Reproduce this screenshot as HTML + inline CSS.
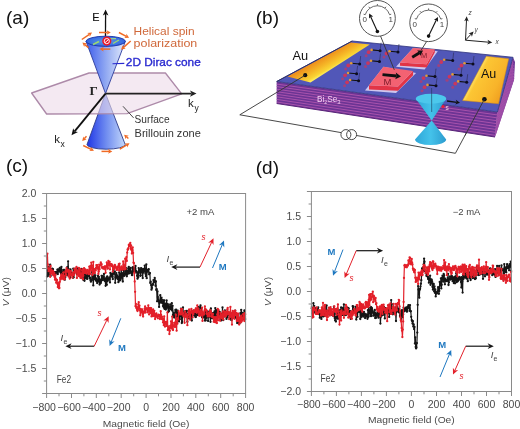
<!DOCTYPE html>
<html><head><meta charset="utf-8"><style>
html,body{margin:0;padding:0;background:#fff;width:520px;height:429px;overflow:hidden}
svg{display:block}
.pl{font-family:"Liberation Sans",sans-serif;font-size:19px;fill:#111}
.tk{font-family:"Liberation Sans",sans-serif;font-size:10.5px;fill:#4a4a4a}
.al{font-family:"Liberation Sans",sans-serif;font-size:9.8px;fill:#4a4a4a}
.ann{font-family:"Liberation Sans",sans-serif;font-size:9px;fill:#444}
.annb{font-family:"Liberation Sans",sans-serif;font-size:9px;font-weight:bold}
.sub{font-family:"Liberation Sans",sans-serif;font-size:7px;fill:#444}
.ie{font-family:"Liberation Sans",sans-serif;font-size:9.5px;fill:#444}
.fe{font-family:"Liberation Sans",sans-serif;font-size:10.4px;fill:#444}
.ta{font-family:"Liberation Sans",sans-serif}
</style></head><body>
<svg width="520" height="429" viewBox="0 0 520 429">
<rect width="520" height="429" fill="#fff"/>
<defs><marker id="mR" markerUnits="userSpaceOnUse" markerWidth="4" markerHeight="4" refX="2" refY="2"><circle cx="2" cy="2" r="1.15" fill="#e3202a"/></marker>
<marker id="mB" markerUnits="userSpaceOnUse" markerWidth="4" markerHeight="4" refX="2" refY="2"><circle cx="2" cy="2" r="1.15" fill="#161616"/></marker></defs>
<defs>
<linearGradient id="gU" x1="0" x2="1" y1="0" y2="0"><stop offset="0" stop-color="#3d5cec"/><stop offset="0.5" stop-color="#90a8f2"/><stop offset="1" stop-color="#e4ecfc"/></linearGradient>
<linearGradient id="gL" x1="0" x2="1" y1="0" y2="0"><stop offset="0" stop-color="#1f36e6"/><stop offset="0.5" stop-color="#6f8cf0"/><stop offset="1" stop-color="#c4d8fa"/></linearGradient>
<radialGradient id="gT" cx="0.5" cy="0.5" r="0.6"><stop offset="0" stop-color="#5a9ae6"/><stop offset="0.7" stop-color="#3a6ee0"/><stop offset="1" stop-color="#2446d4"/></radialGradient>
</defs>
<line x1="105.4" y1="45.0" x2="105.6" y2="14.0" stroke="#111" stroke-width="1.3"/><polygon points="105.6,9.5 108.4,15.5 105.6,14.0 102.8,15.5" fill="#111"/>
<text x="92.2" y="21.4" class="ta" font-size="10.8" fill="#111" stroke="#111" stroke-width="0.2">E</text>
<path d="M105.5,93.5 L87,144.5 A19.1,4.7 0 0 0 125.2,144.5 Z" fill="url(#gL)" stroke="#2c3a88" stroke-width="0.9"/>
<polygon points="31.6,93 89,73 165.4,73 181.7,93.8 127,113.6 46.6,114" fill="#eddae9" fill-opacity="0.6" stroke="#ad8aa9" stroke-width="1.35" stroke-linejoin="round"/>
<path d="M105.5,93.5 L86,41.3 L125.4,41.3 Z" fill="url(#gU)"/>
<polyline points="86,41.3 105.5,93.5 125.4,41.3" fill="none" stroke="#2c3c9c" stroke-width="0.9"/>
<ellipse cx="105.7" cy="41.3" rx="19.7" ry="5.1" fill="url(#gT)" stroke="#1a34a8" stroke-width="0.9"/>
<path d="M93,44.5 L99,41.5" stroke="#9cd870" stroke-width="1.6"/>
<path d="M113,43.5 L119,40" stroke="#9cd870" stroke-width="1.4"/>
<path d="M110,38.8 L116,38.6" stroke="#a0d880" stroke-width="1.1"/>
<circle cx="106.8" cy="41.1" r="4.6" fill="#e8182a"/>
<circle cx="106.8" cy="41.1" r="2.6" fill="none" stroke="#fff" stroke-width="0.9"/>
<path d="M105,42.6 L108.8,39.4" stroke="#fff" stroke-width="0.9"/>
<line x1="81.8" y1="39.5" x2="89.4" y2="34.3" stroke="#f06a24" stroke-width="1.5"/><polygon points="92.0,32.5 89.8,36.8 89.4,34.3 87.2,33.0" fill="#f06a24"/>
<line x1="99.0" y1="32.5" x2="107.6" y2="32.5" stroke="#f06a24" stroke-width="1.5"/><polygon points="110.8,32.5 106.6,34.8 107.6,32.5 106.6,30.2" fill="#f06a24"/>
<line x1="118.9" y1="32.5" x2="126.3" y2="36.3" stroke="#f06a24" stroke-width="1.5"/><polygon points="129.1,37.8 124.3,37.9 126.3,36.3 126.4,33.8" fill="#f06a24"/>
<line x1="130.7" y1="41.0" x2="123.3" y2="47.6" stroke="#f06a24" stroke-width="1.5"/><polygon points="121.0,49.7 122.6,45.2 123.3,47.6 125.7,48.6" fill="#f06a24"/>
<line x1="110.3" y1="49.1" x2="102.7" y2="49.1" stroke="#f06a24" stroke-width="1.5"/><polygon points="99.5,49.1 103.7,46.8 102.7,49.1 103.7,51.4" fill="#f06a24"/>
<line x1="88.5" y1="47.6" x2="84.8" y2="44.6" stroke="#f06a24" stroke-width="1.5"/><polygon points="82.4,42.6 87.1,43.5 84.8,44.6 84.2,47.0" fill="#f06a24"/>
<line x1="86.5" y1="136.3" x2="84.3" y2="138.8" stroke="#f06a24" stroke-width="1.5"/><polygon points="82.2,141.1 83.3,136.4 84.3,138.8 86.7,139.5" fill="#f06a24"/>
<line x1="83.2" y1="145.5" x2="91.2" y2="149.4" stroke="#f06a24" stroke-width="1.5"/><polygon points="94.0,150.8 89.2,151.0 91.2,149.4 91.2,146.9" fill="#f06a24"/>
<line x1="101.5" y1="151.4" x2="109.1" y2="151.4" stroke="#f06a24" stroke-width="1.5"/><polygon points="112.3,151.4 108.1,153.7 109.1,151.4 108.1,149.1" fill="#f06a24"/>
<line x1="119.8" y1="149.2" x2="126.8" y2="144.9" stroke="#f06a24" stroke-width="1.5"/><polygon points="129.5,143.3 127.1,147.4 126.8,144.9 124.7,143.5" fill="#f06a24"/>
<line x1="128.4" y1="138.5" x2="126.5" y2="136.8" stroke="#f06a24" stroke-width="1.5"/><polygon points="124.1,134.7 128.8,135.8 126.5,136.8 125.7,139.2" fill="#f06a24"/>
<line x1="105.5" y1="93.6" x2="191.6" y2="93.6" stroke="#222" stroke-width="1.7"/><polygon points="196.5,93.6 190.0,96.7 191.6,93.6 190.0,90.5" fill="#222"/>
<line x1="105.5" y1="93.6" x2="74.6" y2="131.4" stroke="#111" stroke-width="1.8"/><polygon points="71.5,135.2 73.2,128.2 74.6,131.4 78.0,132.1" fill="#111"/>
<text x="89.6" y="95.4" font-family="Liberation Serif,serif" font-weight="bold" font-size="13" fill="#222">Γ</text>
<text x="188" y="107" class="ta" font-size="11.5" fill="#222">k</text><text x="194.6" y="110.6" class="ta" font-size="8.5" fill="#222">y</text>
<text x="54.2" y="143.2" class="ta" font-size="11.5" fill="#222">k</text><text x="60.6" y="146.6" class="ta" font-size="8.5" fill="#222">x</text>
<line x1="123" y1="106.3" x2="133.6" y2="117.9" stroke="#333" stroke-width="0.9"/>
<text x="134.6" y="123" class="ta" font-size="10.2" fill="#333" textLength="35" lengthAdjust="spacingAndGlyphs">Surface</text>
<text x="134.6" y="136.5" class="ta" font-size="10.2" fill="#333" textLength="66.2" lengthAdjust="spacingAndGlyphs">Brillouin zone</text>
<text x="133.5" y="34.6" class="ta" font-size="11.6" fill="#d0683a" textLength="61.1" lengthAdjust="spacingAndGlyphs">Helical spin</text>
<text x="133.5" y="46.5" class="ta" font-size="11.6" fill="#d0683a" textLength="63.8" lengthAdjust="spacingAndGlyphs">polarization</text>
<line x1="112.5" y1="63.7" x2="124.3" y2="63.4" stroke="#2a2ad0" stroke-width="1.1"/>
<text x="125.8" y="66.3" class="ta" font-size="11.6" fill="#2a2ad0" stroke="#2a2ad0" stroke-width="0.35" textLength="75" lengthAdjust="spacingAndGlyphs">2D Dirac cone</text>
<defs>
<linearGradient id="gAu" gradientUnits="userSpaceOnUse" x1="319.2" y1="59.5" x2="326.8" y2="72.6"><stop offset="0" stop-color="#ee901c"/><stop offset="0.45" stop-color="#f5b426"/><stop offset="0.82" stop-color="#fad434"/><stop offset="1" stop-color="#fff064"/></linearGradient>
<linearGradient id="gAu2" gradientUnits="userSpaceOnUse" x1="474" y1="78" x2="503" y2="93.6"><stop offset="0" stop-color="#ffe46a"/><stop offset="0.12" stop-color="#fcc634"/><stop offset="0.7" stop-color="#f8b42a"/><stop offset="1" stop-color="#f0a020"/></linearGradient>
<linearGradient id="gCy" x1="0" x2="1" y1="0" y2="0"><stop offset="0" stop-color="#2ea6d8"/><stop offset="0.5" stop-color="#44c2ea"/><stop offset="1" stop-color="#2c9ccf"/></linearGradient>
<filter id="bl" x="-50%" y="-50%" width="200%" height="200%"><feGaussianBlur stdDeviation="0.7"/></filter>
</defs>
<polyline points="305.2,75.2 239.8,114.8 341.0,132.6" fill="none" stroke="#333" stroke-width="0.9"/>
<polyline points="356.6,135.5 455.4,153.3 484.4,99.2" fill="none" stroke="#333" stroke-width="0.9"/>
<circle cx="345.9" cy="134.6" r="5" fill="none" stroke="#333" stroke-width="0.9"/><circle cx="351.6" cy="134.6" r="5" fill="none" stroke="#333" stroke-width="0.9"/>
<polygon points="276.7,81.5 497.4,112.0 495.0,137.0 276.7,103.5" fill="#6c3494"/>
<polygon points="497.4,112.0 513.0,57.3 515.0,62.0 514.0,80.0 495.0,137.0" fill="#6c3494"/>
<line x1="276.7" y1="84.1" x2="497.1" y2="114.9" stroke="#a852ac" stroke-width="1"/>
<line x1="497.1" y1="114.9" x2="513.1" y2="59.9" stroke="#a852ac" stroke-width="0.9"/>
<line x1="276.7" y1="86.6" x2="496.8" y2="117.8" stroke="#a852ac" stroke-width="1"/>
<line x1="496.8" y1="117.8" x2="513.2" y2="62.6" stroke="#a852ac" stroke-width="0.9"/>
<line x1="276.7" y1="89.2" x2="496.6" y2="120.7" stroke="#a852ac" stroke-width="1"/>
<line x1="496.6" y1="120.7" x2="513.3" y2="65.2" stroke="#a852ac" stroke-width="0.9"/>
<line x1="276.7" y1="91.7" x2="496.3" y2="123.6" stroke="#a852ac" stroke-width="1"/>
<line x1="496.3" y1="123.6" x2="513.5" y2="67.9" stroke="#a852ac" stroke-width="0.9"/>
<line x1="276.7" y1="94.3" x2="496.0" y2="126.5" stroke="#a852ac" stroke-width="1"/>
<line x1="496.0" y1="126.5" x2="513.6" y2="70.5" stroke="#a852ac" stroke-width="0.9"/>
<line x1="276.7" y1="96.8" x2="495.7" y2="129.4" stroke="#a852ac" stroke-width="1"/>
<line x1="495.7" y1="129.4" x2="513.7" y2="73.1" stroke="#a852ac" stroke-width="0.9"/>
<line x1="276.7" y1="99.4" x2="495.4" y2="132.3" stroke="#a852ac" stroke-width="1"/>
<line x1="495.4" y1="132.3" x2="513.8" y2="75.8" stroke="#a852ac" stroke-width="0.9"/>
<line x1="276.7" y1="102.0" x2="495.2" y2="135.3" stroke="#a852ac" stroke-width="1"/>
<line x1="495.2" y1="135.3" x2="513.9" y2="78.4" stroke="#a852ac" stroke-width="0.9"/>
<line x1="276.7" y1="103.5" x2="495" y2="137" stroke="#5a2478" stroke-width="1"/>
<polygon points="276.7,81.5 352.2,41.0 513.0,57.3 497.4,112.0" fill="#5157b8" stroke="#30347e" stroke-width="0.8"/>
<polygon points="287.5,76.6 350.5,42.6 369.8,44.6 310.5,82.6" fill="url(#gAu)"/>
<line x1="276.7" y1="81.5" x2="352.2" y2="41" stroke="#2a2c60" stroke-width="0.9"/>
<polygon points="462.6,100.5 486.3,56.3 508.7,58.8 498.5,103.7" fill="url(#gAu2)" stroke="#d08a18" stroke-width="0.5"/>
<polygon points="413.1,47.9 437.8,51.2 424.6,69.6 396.0,66.8" fill="#cfc6ee"/>
<polygon points="400.0,62.6 426.6,64.2 434.8,49.2 434.8,52.4 426.6,67.4 400.0,65.8" fill="#e23446"/>
<polygon points="413.1,47.9 434.8,49.2 426.6,64.2 400.0,62.6" fill="#f36272"/>
<polygon points="383.5,66.8 416.1,73.0 396.0,93.0 365.0,90.5" fill="#cfc6ee"/>
<polygon points="369.0,85.2 398.0,86.5 413.1,71.0 413.1,75.3 398.0,90.8 369.0,89.5" fill="#e23446"/>
<polygon points="383.5,66.8 413.1,71.0 398.0,86.5 369.0,85.2" fill="#f36272"/>
<line x1="382.5" y1="74.7" x2="396.6" y2="76.0" stroke="#111" stroke-width="2.8"/><polygon points="401.0,76.4 395.2,79.3 396.6,76.0 395.8,72.5" fill="#111"/>
<line x1="412.2" y1="57.2" x2="419.6" y2="52.7" stroke="#111" stroke-width="2.8"/><polygon points="423.0,50.6 420.4,55.9 419.6,52.7 417.1,50.5" fill="#111"/>
<text x="383.6" y="84.8" font-family="Liberation Sans,sans-serif" font-size="9.5" fill="#7a1a28">M</text>
<text x="421" y="57.8" font-family="Liberation Sans,sans-serif" font-size="7.4" fill="#7a1a28">M</text>
<circle cx="368.6" cy="52.2" r="1.9" fill="#e0304e" opacity="0.85" filter="url(#bl)"/>
<circle cx="366.1" cy="55.7" r="1.5" fill="#e0304e" opacity="0.55" filter="url(#bl)"/>
<line x1="380.1" y1="50.7" x2="381.1" y2="42.7" stroke="#2a2a50" stroke-width="0.6"/>
<line x1="371.6" y1="49.9" x2="380.1" y2="50.7" stroke="#111" stroke-width="1.1"/>
<circle cx="371.6" cy="49.9" r="1.3" fill="#e29a38"/>
<circle cx="380.1" cy="50.7" r="1.5" fill="#0c0c20"/>
<circle cx="368.0" cy="63.1" r="1.9" fill="#e0304e" opacity="0.85" filter="url(#bl)"/>
<circle cx="365.5" cy="66.6" r="1.5" fill="#e0304e" opacity="0.55" filter="url(#bl)"/>
<line x1="379.5" y1="61.6" x2="380.5" y2="53.6" stroke="#2a2a50" stroke-width="0.6"/>
<line x1="371.0" y1="60.8" x2="379.5" y2="61.6" stroke="#111" stroke-width="1.1"/>
<circle cx="371.0" cy="60.8" r="1.3" fill="#e29a38"/>
<circle cx="379.5" cy="61.6" r="1.5" fill="#0c0c20"/>
<circle cx="348.2" cy="65.5" r="1.9" fill="#e0304e" opacity="0.85" filter="url(#bl)"/>
<circle cx="345.7" cy="69.0" r="1.5" fill="#e0304e" opacity="0.55" filter="url(#bl)"/>
<line x1="359.7" y1="64.0" x2="360.7" y2="56.0" stroke="#2a2a50" stroke-width="0.6"/>
<line x1="351.2" y1="63.2" x2="359.7" y2="64.0" stroke="#111" stroke-width="1.1"/>
<circle cx="351.2" cy="63.2" r="1.3" fill="#e29a38"/>
<circle cx="359.7" cy="64.0" r="1.5" fill="#0c0c20"/>
<circle cx="345.1" cy="75.3" r="1.9" fill="#e0304e" opacity="0.85" filter="url(#bl)"/>
<circle cx="342.6" cy="78.8" r="1.5" fill="#e0304e" opacity="0.55" filter="url(#bl)"/>
<line x1="356.6" y1="73.8" x2="357.6" y2="65.8" stroke="#2a2a50" stroke-width="0.6"/>
<line x1="348.1" y1="73.0" x2="356.6" y2="73.8" stroke="#111" stroke-width="1.1"/>
<circle cx="348.1" cy="73.0" r="1.3" fill="#e29a38"/>
<circle cx="356.6" cy="73.8" r="1.5" fill="#0c0c20"/>
<circle cx="347.1" cy="82.3" r="1.9" fill="#e0304e" opacity="0.85" filter="url(#bl)"/>
<circle cx="344.6" cy="85.8" r="1.5" fill="#e0304e" opacity="0.55" filter="url(#bl)"/>
<line x1="358.6" y1="80.8" x2="359.6" y2="72.8" stroke="#2a2a50" stroke-width="0.6"/>
<line x1="350.1" y1="80.0" x2="358.6" y2="80.8" stroke="#111" stroke-width="1.1"/>
<circle cx="350.1" cy="80.0" r="1.3" fill="#e29a38"/>
<circle cx="358.6" cy="80.8" r="1.5" fill="#0c0c20"/>
<circle cx="441.2" cy="62.0" r="1.9" fill="#e0304e" opacity="0.85" filter="url(#bl)"/>
<circle cx="438.7" cy="65.5" r="1.5" fill="#e0304e" opacity="0.55" filter="url(#bl)"/>
<line x1="452.7" y1="60.5" x2="453.7" y2="52.5" stroke="#2a2a50" stroke-width="0.6"/>
<line x1="444.2" y1="59.7" x2="452.7" y2="60.5" stroke="#111" stroke-width="1.1"/>
<circle cx="444.2" cy="59.7" r="1.3" fill="#e29a38"/>
<circle cx="452.7" cy="60.5" r="1.5" fill="#0c0c20"/>
<circle cx="461.5" cy="65.5" r="1.9" fill="#e0304e" opacity="0.85" filter="url(#bl)"/>
<circle cx="459.0" cy="69.0" r="1.5" fill="#e0304e" opacity="0.55" filter="url(#bl)"/>
<line x1="473.0" y1="64.0" x2="474.0" y2="56.0" stroke="#2a2a50" stroke-width="0.6"/>
<line x1="464.5" y1="63.2" x2="473.0" y2="64.0" stroke="#111" stroke-width="1.1"/>
<circle cx="464.5" cy="63.2" r="1.3" fill="#e29a38"/>
<circle cx="473.0" cy="64.0" r="1.5" fill="#0c0c20"/>
<circle cx="423.5" cy="78.1" r="1.9" fill="#e0304e" opacity="0.85" filter="url(#bl)"/>
<circle cx="421.0" cy="81.6" r="1.5" fill="#e0304e" opacity="0.55" filter="url(#bl)"/>
<line x1="435.0" y1="76.6" x2="436.0" y2="68.6" stroke="#2a2a50" stroke-width="0.6"/>
<line x1="426.5" y1="75.8" x2="435.0" y2="76.6" stroke="#111" stroke-width="1.1"/>
<circle cx="426.5" cy="75.8" r="1.3" fill="#e29a38"/>
<circle cx="435.0" cy="76.6" r="1.5" fill="#0c0c20"/>
<circle cx="449.5" cy="76.7" r="1.9" fill="#e0304e" opacity="0.85" filter="url(#bl)"/>
<circle cx="447.0" cy="80.2" r="1.5" fill="#e0304e" opacity="0.55" filter="url(#bl)"/>
<line x1="461.0" y1="75.2" x2="462.0" y2="67.2" stroke="#2a2a50" stroke-width="0.6"/>
<line x1="452.5" y1="74.4" x2="461.0" y2="75.2" stroke="#111" stroke-width="1.1"/>
<circle cx="452.5" cy="74.4" r="1.3" fill="#e29a38"/>
<circle cx="461.0" cy="75.2" r="1.5" fill="#0c0c20"/>
<circle cx="424.5" cy="87.2" r="1.9" fill="#e0304e" opacity="0.85" filter="url(#bl)"/>
<circle cx="422.0" cy="90.7" r="1.5" fill="#e0304e" opacity="0.55" filter="url(#bl)"/>
<line x1="436.0" y1="85.7" x2="437.0" y2="77.7" stroke="#2a2a50" stroke-width="0.6"/>
<line x1="427.5" y1="84.9" x2="436.0" y2="85.7" stroke="#111" stroke-width="1.1"/>
<circle cx="427.5" cy="84.9" r="1.3" fill="#e29a38"/>
<circle cx="436.0" cy="85.7" r="1.5" fill="#0c0c20"/>
<circle cx="455.2" cy="83.7" r="1.9" fill="#e0304e" opacity="0.85" filter="url(#bl)"/>
<circle cx="452.7" cy="87.2" r="1.5" fill="#e0304e" opacity="0.55" filter="url(#bl)"/>
<line x1="466.7" y1="82.2" x2="467.7" y2="74.2" stroke="#2a2a50" stroke-width="0.6"/>
<line x1="458.2" y1="81.4" x2="466.7" y2="82.2" stroke="#111" stroke-width="1.1"/>
<circle cx="458.2" cy="81.4" r="1.3" fill="#e29a38"/>
<circle cx="466.7" cy="82.2" r="1.5" fill="#0c0c20"/>
<circle cx="386.5" cy="53.5" r="1.9" fill="#e0304e" opacity="0.85" filter="url(#bl)"/>
<circle cx="384.0" cy="57.0" r="1.5" fill="#e0304e" opacity="0.55" filter="url(#bl)"/>
<line x1="398.0" y1="52.0" x2="399.0" y2="44.0" stroke="#2a2a50" stroke-width="0.6"/>
<line x1="389.5" y1="51.2" x2="398.0" y2="52.0" stroke="#111" stroke-width="1.1"/>
<circle cx="389.5" cy="51.2" r="1.3" fill="#e29a38"/>
<circle cx="398.0" cy="52.0" r="1.5" fill="#0c0c20"/>
<circle cx="305.2" cy="75.2" r="2.1" fill="#111"/><circle cx="484.4" cy="99.2" r="2.3" fill="#111"/>
<line x1="305.2" y1="75.2" x2="276.7" y2="92.5" stroke="#333" stroke-width="0.9"/>
<line x1="484.4" y1="99.2" x2="465" y2="135.5" stroke="#333" stroke-width="0.9"/>
<line x1="447.0" y1="101.0" x2="456.7" y2="102.3" stroke="#111" stroke-width="1.3"/><polygon points="460.0,102.8 455.2,104.6 456.7,102.3 455.9,99.8" fill="#111"/>
<circle cx="443" cy="106.5" r="1.6" fill="#e8203a"/>
<text x="445.6" y="110" font-family="Liberation Sans,sans-serif" font-size="6.5" fill="#f4d0e0">s</text>
<path d="M431.7,120.6 L415,139.5 A15.6,5.5 0 0 0 446.2,139.5 Z" fill="url(#gCy)"/>
<path d="M431.7,120.6 L415.8,98.8 L446.2,98.8 Z" fill="url(#gCy)"/>
<ellipse cx="431" cy="98.8" rx="15.2" ry="5" fill="#4cc8ec"/>
<line x1="431.6" y1="88" x2="431.7" y2="112" stroke="#1a3a5a" stroke-width="0.6"/>
<line x1="380.5" y1="36" x2="394.3" y2="69.8" stroke="#333" stroke-width="0.9"/>
<line x1="426.7" y1="41.4" x2="421.2" y2="50.1" stroke="#333" stroke-width="0.9"/>
<circle cx="377.4" cy="18.4" r="17.9" fill="#fff" stroke="#555" stroke-width="1"/>
<path d="M365.2,14.7 A12.8,12.8 0 0 1 389.6,14.7" fill="none" stroke="#444" stroke-width="0.8"/>
<line x1="365.2" y1="14.7" x2="363.6" y2="14.2" stroke="#444" stroke-width="0.8"/>
<line x1="369.8" y1="8.1" x2="368.8" y2="6.8" stroke="#444" stroke-width="0.8"/>
<line x1="377.4" y1="5.6" x2="377.4" y2="4.0" stroke="#444" stroke-width="0.8"/>
<line x1="385.0" y1="8.1" x2="386.0" y2="6.8" stroke="#444" stroke-width="0.8"/>
<line x1="389.6" y1="14.7" x2="391.2" y2="14.2" stroke="#444" stroke-width="0.8"/>
<line x1="377.4" y1="31.5" x2="370.7" y2="16.7" stroke="#111" stroke-width="1.1"/><polygon points="369.2,13.4 373.2,16.5 370.7,16.7 369.0,18.4" fill="#111"/>
<circle cx="377.4" cy="31.5" r="1.8" fill="#111"/>
<text x="362.6" y="22.2" font-family="Liberation Sans,sans-serif" font-size="8" fill="#444">0</text>
<text x="388.6" y="22.2" font-family="Liberation Sans,sans-serif" font-size="8" fill="#444">1</text>
<circle cx="428.6" cy="22.8" r="18.8" fill="#fff" stroke="#555" stroke-width="1"/>
<path d="M416.4,19.1 A12.8,12.8 0 0 1 440.8,19.1" fill="none" stroke="#444" stroke-width="0.8"/>
<line x1="416.4" y1="19.1" x2="414.8" y2="18.6" stroke="#444" stroke-width="0.8"/>
<line x1="421.0" y1="12.5" x2="420.0" y2="11.2" stroke="#444" stroke-width="0.8"/>
<line x1="428.6" y1="10.0" x2="428.6" y2="8.4" stroke="#444" stroke-width="0.8"/>
<line x1="436.2" y1="12.5" x2="437.2" y2="11.2" stroke="#444" stroke-width="0.8"/>
<line x1="440.8" y1="19.1" x2="442.4" y2="18.6" stroke="#444" stroke-width="0.8"/>
<line x1="428.6" y1="36.1" x2="436.3" y2="20.1" stroke="#111" stroke-width="1.1"/><polygon points="437.9,16.9 438.0,22.0 436.3,20.1 433.9,19.9" fill="#111"/>
<circle cx="428.6" cy="36.1" r="1.8" fill="#111"/>
<text x="412.6" y="26.9" font-family="Liberation Sans,sans-serif" font-size="8" fill="#444">0</text>
<text x="439.8" y="27" font-family="Liberation Sans,sans-serif" font-size="8" fill="#444">1</text>
<line x1="465.5" y1="40.2" x2="466.5" y2="20.0" stroke="#222" stroke-width="1.0"/><polygon points="466.7,16.3 468.7,21.4 466.5,20.0 464.2,21.2" fill="#222"/>
<line x1="465.5" y1="40.2" x2="471.0" y2="34.2" stroke="#222" stroke-width="1.0"/><polygon points="473.6,31.5 471.9,36.7 471.0,34.2 468.5,33.6" fill="#222"/>
<line x1="465.5" y1="40.2" x2="488.6" y2="42.2" stroke="#222" stroke-width="1.0"/><polygon points="492.3,42.5 487.1,44.4 488.6,42.2 487.5,39.8" fill="#222"/>
<text x="468.6" y="14.6" font-family="Liberation Sans,sans-serif" font-size="6.5" font-style="italic" fill="#444">z</text>
<text x="474.6" y="31.6" font-family="Liberation Sans,sans-serif" font-size="6.5" font-style="italic" fill="#444">y</text>
<text x="495.6" y="43.7" font-family="Liberation Sans,sans-serif" font-size="6.5" font-style="italic" fill="#444">x</text>
<text x="292.4" y="59.8" font-family="Liberation Sans,sans-serif" font-size="12.8" fill="#111">Au</text>
<text x="481" y="77.5" font-family="Liberation Sans,sans-serif" font-size="12.5" fill="#111">Au</text>
<text x="317" y="102.2" font-family="Liberation Sans,sans-serif" font-size="8.2" fill="#f6d0f4">Bi<tspan font-size="5.2" dy="2">2</tspan><tspan dy="-2">Se</tspan><tspan font-size="5.8" dy="2">3</tspan></text>
<polyline points="46.6,274.7 47.0,276.4 47.4,270.3 47.8,276.1 48.2,266.8 48.6,270.3 49.0,274.6 49.4,271.9 49.8,268.4 50.2,264.6 50.6,276.0 51.0,269.5 51.4,270.5 51.8,272.8 52.2,268.6 52.6,270.7 53.0,269.2 53.4,274.7 53.8,272.9 54.2,272.6 54.6,273.5 55.0,272.1 55.4,274.8 55.8,272.4 56.2,272.1 56.6,272.7 57.0,272.3 57.4,269.7 57.8,274.1 58.2,269.5 58.6,271.5 59.0,269.6 59.4,271.4 59.8,268.0 60.2,269.3 60.6,272.0 61.0,273.8 61.4,266.9 61.8,271.6 62.2,276.3 62.6,272.9 63.0,272.4 63.3,269.8 63.7,272.8 64.1,275.3 64.5,270.0 64.9,279.7 65.3,277.3 65.7,275.1 66.1,275.3 66.5,273.3 66.9,272.0 67.3,267.1 67.7,274.8 68.1,261.3 68.5,268.8 68.9,272.6 69.3,272.4 69.7,271.6 70.1,277.5 70.5,269.4 70.9,274.0 71.3,272.6 71.7,274.9 72.1,274.3 72.5,273.3 72.9,277.7 73.3,268.6 73.7,277.3 74.1,273.4 74.5,272.5 74.9,269.0 75.3,270.8 75.7,271.5 76.1,270.0 76.5,269.5 76.9,274.1 77.3,268.5 77.7,272.8 78.1,274.0 78.5,270.3 78.9,271.7 79.3,269.5 79.7,270.5 80.1,273.1 80.5,270.8 80.9,272.0 81.3,277.6 81.7,269.0 82.1,275.2 82.5,274.4 82.9,272.7 83.3,279.8 83.7,277.7 84.1,271.8 84.5,280.8 84.9,277.2 85.3,270.9 85.7,273.7 86.1,278.4 86.5,275.6 86.9,274.1 87.3,278.9 87.7,276.5 88.1,275.0 88.5,275.7 88.9,272.7 89.3,276.3 89.7,278.2 90.1,278.0 90.5,280.2 90.9,281.7 91.3,279.6 91.7,280.2 92.1,272.2 92.5,270.9 92.9,277.6 93.3,285.4 93.7,278.0 94.1,275.5 94.5,279.0 94.9,275.6 95.3,275.5 95.7,280.1 96.1,278.5 96.4,281.1 96.8,279.9 97.2,283.1 97.6,281.8 98.0,276.0 98.4,281.4 98.8,276.8 99.2,278.7 99.6,284.5 100.0,279.6 100.4,281.0 100.8,283.0 101.2,281.0 101.6,275.8 102.0,276.0 102.4,279.9 102.8,279.9 103.2,277.9 103.6,276.9 104.0,273.9 104.4,280.1 104.8,281.1 105.2,278.9 105.6,285.8 106.0,279.2 106.4,277.6 106.8,284.8 107.2,276.4 107.6,281.1 108.0,279.7 108.4,279.4 108.8,278.9 109.2,277.5 109.6,279.1 110.0,282.4 110.4,272.9 110.8,276.0 111.2,274.6 111.6,276.4 112.0,273.8 112.4,276.8 112.8,279.1 113.2,269.7 113.6,273.2 114.0,273.8 114.4,272.5 114.8,271.5 115.2,282.8 115.6,277.5 116.0,275.0 116.4,273.1 116.8,277.7 117.2,275.3 117.6,279.0 118.0,276.9 118.4,282.2 118.8,278.0 119.2,272.4 119.6,280.6 120.0,274.0 120.4,280.0 120.8,278.5 121.2,267.6 121.6,277.0 122.0,273.4 122.4,274.4 122.8,281.5 123.2,273.2 123.6,270.2 124.0,275.8 124.4,275.6 124.8,274.8 125.2,270.9 125.6,274.1 126.0,268.3 126.4,268.4 126.8,276.3 127.2,274.3 127.6,270.6 128.0,273.5 128.4,268.3 128.8,267.0 129.2,273.3 129.5,269.0 129.9,270.1 130.3,271.3 130.7,267.9 131.1,273.0 131.5,271.6 131.9,275.0 132.3,275.0 132.7,267.4 133.1,267.3 133.5,271.0 133.9,268.1 134.3,272.3 134.7,272.7 135.1,268.7 135.5,266.0 135.9,270.8 136.3,271.1 136.7,271.9 137.1,275.8 137.5,278.7 137.9,272.7 138.3,277.3 138.7,268.1 139.1,272.6 139.5,271.7 139.9,269.3 140.3,275.8 140.7,275.6 141.1,268.1 141.5,271.3 141.9,272.4 142.3,269.7 142.7,278.1 143.1,269.0 143.5,272.5 143.9,271.5 144.3,270.5 144.7,265.6 145.1,270.0 145.5,273.8 145.9,276.2 146.3,264.5 146.7,278.2 147.1,271.4 147.5,270.1 147.9,271.5 148.3,269.6 148.7,269.1 149.1,274.3 149.5,273.0 149.9,273.1 150.3,282.9 150.7,281.6 151.1,285.1 151.5,289.7 151.9,288.0 152.3,285.1 152.7,284.2 153.1,284.6 153.5,280.1 153.9,282.1 154.3,281.6 154.7,277.9 155.1,280.6 155.5,285.8 155.9,281.5 156.3,289.9 156.7,289.1 157.1,301.3 157.5,291.4 157.9,297.1 158.3,299.5 158.7,301.0 159.1,306.9 159.5,303.0 159.9,301.6 160.3,295.2 160.7,300.5 161.1,302.5 161.5,297.6 161.9,299.8 162.3,302.8 162.7,302.9 163.0,306.1 163.4,300.5 163.8,307.6 164.2,300.3 164.6,308.9 165.0,304.8 165.4,303.6 165.8,309.5 166.2,307.8 166.6,300.5 167.0,307.7 167.4,303.9 167.8,304.5 168.2,312.1 168.6,306.0 169.0,311.1 169.4,307.1 169.8,307.6 170.2,304.5 170.6,309.2 171.0,309.2 171.4,309.0 171.8,303.2 172.2,310.6 172.6,305.8 173.0,314.9 173.4,316.2 173.8,312.7 174.2,317.5 174.6,315.0 175.0,316.4 175.4,309.9 175.8,311.5 176.2,309.6 176.6,313.3 177.0,316.7 177.4,317.2 177.8,310.7 178.2,319.9 178.6,318.7 179.0,321.4 179.4,315.7 179.8,319.3 180.2,316.1 180.6,313.4 181.0,308.6 181.4,314.3 181.8,323.0 182.2,321.5 182.6,314.5 183.0,307.5 183.4,315.4 183.8,314.1 184.2,316.4 184.6,314.2 185.0,311.5 185.4,313.1 185.8,313.4 186.2,310.9 186.6,314.0 187.0,315.8 187.4,321.8 187.8,317.8 188.2,310.9 188.6,318.1 189.0,316.4 189.4,318.2 189.8,316.3 190.2,314.5 190.6,317.4 191.0,316.5 191.4,313.2 191.8,320.5 192.2,313.6 192.6,315.7 193.0,313.8 193.4,310.6 193.8,312.1 194.2,310.9 194.6,315.3 195.0,313.8 195.4,316.8 195.8,317.0 196.1,314.9 196.5,312.3 196.9,311.7 197.3,312.5 197.7,315.1 198.1,312.5 198.5,313.0 198.9,307.2 199.3,314.5 199.7,310.9 200.1,314.2 200.5,305.3 200.9,311.6 201.3,308.0 201.7,312.0 202.1,317.2 202.5,317.3 202.9,313.9 203.3,317.4 203.7,314.4 204.1,317.0 204.5,315.8 204.9,320.5 205.3,309.7 205.7,320.4 206.1,316.9 206.5,317.8 206.9,315.4 207.3,312.2 207.7,312.7 208.1,320.9 208.5,314.1 208.9,312.6 209.3,311.5 209.7,316.7 210.1,317.1 210.5,321.8 210.9,308.4 211.3,316.4 211.7,316.6 212.1,318.3 212.5,315.8 212.9,313.3 213.3,313.1 213.7,317.3 214.1,318.1 214.5,311.4 214.9,315.9 215.3,308.1 215.7,312.3 216.1,314.7 216.5,310.1 216.9,319.2 217.3,313.4 217.7,313.1 218.1,312.5 218.5,316.5 218.9,313.2 219.3,311.7 219.7,312.1 220.1,314.8 220.5,319.4 220.9,313.9 221.3,320.4 221.7,316.4 222.1,315.9 222.5,307.5 222.9,317.4 223.3,320.1 223.7,316.6 224.1,312.1 224.5,316.2 224.9,310.5 225.3,314.9 225.7,311.5 226.1,313.8 226.5,318.9 226.9,314.4 227.3,317.2 227.7,312.8 228.1,315.1 228.5,313.0 228.9,315.2 229.2,313.9 229.6,317.3 230.0,317.9 230.4,313.2 230.8,317.6 231.2,319.8 231.6,320.0 232.0,317.1 232.4,313.6 232.8,317.5 233.2,314.9 233.6,316.8 234.0,317.7 234.4,314.9 234.8,317.4 235.2,310.7 235.6,315.4 236.0,314.2 236.4,318.5 236.8,318.7 237.2,323.1 237.6,319.3 238.0,322.0 238.4,321.2 238.8,318.7 239.2,323.8 239.6,323.1 240.0,320.9 240.4,313.1 240.8,314.7 241.2,309.8 241.6,312.9 242.0,316.5 242.4,312.8 242.8,314.8 243.2,319.2 243.6,314.3 244.0,313.7 244.4,310.4 244.8,311.8 245.2,319.1 245.6,318.6" fill="none" stroke="#161616" stroke-width="1.2" stroke-linejoin="round" marker-mid="url(#mB)"/>
<polyline points="46.6,267.1 47.0,257.4 47.4,253.7 47.8,264.4 48.2,268.6 48.6,271.2 49.0,268.6 49.4,270.2 49.8,268.3 50.2,276.8 50.6,266.0 51.0,271.7 51.4,269.6 51.8,273.0 52.2,273.9 52.6,271.8 53.0,271.0 53.4,275.3 53.8,275.1 54.2,272.6 54.6,277.0 55.0,279.7 55.4,274.7 55.8,278.8 56.2,282.7 56.6,280.5 57.0,280.0 57.4,283.8 57.8,287.1 58.2,283.4 58.6,282.7 59.0,288.3 59.4,287.9 59.8,281.8 60.2,277.8 60.6,279.5 61.0,276.2 61.4,274.4 61.8,277.7 62.2,278.7 62.6,275.5 63.0,275.8 63.3,272.5 63.7,279.4 64.1,276.1 64.5,276.3 64.9,279.1 65.3,272.2 65.7,270.7 66.1,274.9 66.5,268.1 66.9,270.4 67.3,271.1 67.7,271.6 68.1,270.0 68.5,276.6 68.9,270.6 69.3,270.8 69.7,278.6 70.1,272.1 70.5,273.8 70.9,271.1 71.3,275.6 71.7,274.9 72.1,274.4 72.5,277.6 72.9,273.1 73.3,275.2 73.7,272.2 74.1,274.8 74.5,268.7 74.9,269.7 75.3,272.5 75.7,269.7 76.1,268.3 76.5,267.0 76.9,277.9 77.3,270.3 77.7,271.4 78.1,273.6 78.5,275.9 78.9,267.8 79.3,276.3 79.7,269.7 80.1,268.8 80.5,277.9 80.9,273.7 81.3,277.0 81.7,273.7 82.1,270.5 82.5,269.2 82.9,279.2 83.3,275.8 83.7,270.8 84.1,268.2 84.5,271.1 84.9,273.2 85.3,269.3 85.7,271.8 86.1,271.8 86.5,273.6 86.9,270.7 87.3,270.0 87.7,270.6 88.1,272.1 88.5,274.0 88.9,271.7 89.3,266.6 89.7,269.6 90.1,274.0 90.5,266.0 90.9,267.4 91.3,262.6 91.7,268.5 92.1,270.6 92.5,274.9 92.9,265.7 93.3,262.0 93.7,272.8 94.1,272.9 94.5,269.1 94.9,273.1 95.3,269.6 95.7,270.4 96.1,268.0 96.4,265.1 96.8,267.4 97.2,265.1 97.6,268.6 98.0,267.1 98.4,274.0 98.8,271.5 99.2,264.6 99.6,269.3 100.0,265.2 100.4,265.0 100.8,262.5 101.2,264.6 101.6,264.1 102.0,267.2 102.4,268.1 102.8,268.2 103.2,267.4 103.6,268.7 104.0,267.5 104.4,266.8 104.8,266.3 105.2,269.2 105.6,272.8 106.0,266.9 106.4,266.1 106.8,262.5 107.2,264.4 107.6,268.6 108.0,268.3 108.4,260.8 108.8,265.4 109.2,262.1 109.6,261.8 110.0,269.4 110.4,264.1 110.8,264.7 111.2,265.0 111.6,264.2 112.0,266.2 112.4,265.3 112.8,271.6 113.2,267.8 113.6,269.2 114.0,266.3 114.4,268.9 114.8,265.0 115.2,265.7 115.6,266.9 116.0,267.5 116.4,267.9 116.8,270.0 117.2,268.0 117.6,269.4 118.0,266.3 118.4,266.8 118.8,264.2 119.2,270.5 119.6,263.6 120.0,269.5 120.4,269.6 120.8,267.6 121.2,268.7 121.6,266.5 122.0,268.9 122.4,269.8 122.8,269.0 123.2,261.5 123.6,264.7 124.0,269.2 124.4,265.6 124.8,269.3 125.2,258.7 125.6,268.9 126.0,259.6 126.4,257.1 126.8,260.9 127.2,252.6 127.6,249.4 128.0,249.6 128.4,248.1 128.8,245.0 129.2,245.8 129.5,244.3 129.9,246.3 130.3,243.0 130.7,248.8 131.1,245.4 131.5,250.0 131.9,253.5 132.3,250.2 132.7,247.3 133.1,252.9 133.5,262.6 133.9,263.2 134.3,272.9 134.7,281.5 135.1,291.8 135.5,306.2 135.9,304.0 136.3,307.9 136.7,306.8 137.1,309.8 137.5,311.0 137.9,309.7 138.3,304.3 138.7,302.2 139.1,308.1 139.5,305.6 139.9,310.3 140.3,315.3 140.7,309.1 141.1,309.7 141.5,312.6 141.9,310.1 142.3,309.5 142.7,314.3 143.1,316.5 143.5,312.2 143.9,311.4 144.3,312.6 144.7,308.6 145.1,306.4 145.5,312.5 145.9,308.7 146.3,308.3 146.7,309.4 147.1,308.3 147.5,312.3 147.9,309.5 148.3,305.3 148.7,309.5 149.1,314.4 149.5,309.9 149.9,307.8 150.3,310.7 150.7,313.1 151.1,308.1 151.5,316.4 151.9,310.2 152.3,312.9 152.7,316.1 153.1,309.3 153.5,312.1 153.9,316.0 154.3,310.8 154.7,314.4 155.1,319.1 155.5,316.6 155.9,314.2 156.3,313.4 156.7,315.8 157.1,317.0 157.5,316.0 157.9,318.3 158.3,314.6 158.7,316.0 159.1,315.6 159.5,315.1 159.9,319.0 160.3,317.8 160.7,311.2 161.1,314.9 161.5,318.9 161.9,316.6 162.3,319.3 162.7,318.4 163.0,322.4 163.4,319.0 163.8,325.2 164.2,316.4 164.6,323.8 165.0,326.6 165.4,321.9 165.8,322.6 166.2,322.2 166.6,325.9 167.0,322.6 167.4,312.5 167.8,329.9 168.2,326.3 168.6,329.2 169.0,327.8 169.4,334.1 169.8,330.8 170.2,325.9 170.6,327.4 171.0,321.3 171.4,328.2 171.8,324.6 172.2,316.6 172.6,329.4 173.0,330.0 173.4,325.7 173.8,325.7 174.2,322.8 174.6,325.0 175.0,327.0 175.4,322.4 175.8,314.7 176.2,319.1 176.6,330.7 177.0,321.6 177.4,323.7 177.8,318.1 178.2,319.3 178.6,311.1 179.0,313.7 179.4,313.6 179.8,314.3 180.2,314.3 180.6,312.6 181.0,309.1 181.4,311.7 181.8,314.4 182.2,309.1 182.6,312.7 183.0,313.4 183.4,315.9 183.8,315.9 184.2,316.6 184.6,322.8 185.0,311.5 185.4,314.3 185.8,316.8 186.2,313.7 186.6,316.0 187.0,315.6 187.4,325.2 187.8,317.6 188.2,315.0 188.6,311.4 189.0,309.6 189.4,309.7 189.8,317.2 190.2,319.7 190.6,311.4 191.0,312.3 191.4,308.9 191.8,312.6 192.2,311.8 192.6,317.4 193.0,311.2 193.4,314.0 193.8,310.4 194.2,310.7 194.6,311.9 195.0,310.5 195.4,311.1 195.8,308.4 196.1,308.7 196.5,312.3 196.9,312.7 197.3,305.4 197.7,311.6 198.1,308.3 198.5,310.8 198.9,314.6 199.3,315.8 199.7,312.0 200.1,311.6 200.5,310.0 200.9,315.5 201.3,313.5 201.7,312.6 202.1,307.7 202.5,320.9 202.9,312.1 203.3,314.5 203.7,312.9 204.1,314.4 204.5,310.3 204.9,306.3 205.3,309.9 205.7,309.3 206.1,310.5 206.5,313.6 206.9,310.7 207.3,314.4 207.7,316.4 208.1,314.3 208.5,315.8 208.9,312.7 209.3,315.5 209.7,316.5 210.1,310.2 210.5,311.6 210.9,311.4 211.3,313.4 211.7,316.2 212.1,316.7 212.5,317.2 212.9,314.0 213.3,317.5 213.7,321.7 214.1,317.2 214.5,321.8 214.9,317.9 215.3,322.3 215.7,321.6 216.1,317.2 216.5,318.2 216.9,323.1 217.3,314.5 217.7,308.9 218.1,320.3 218.5,310.0 218.9,317.6 219.3,317.3 219.7,316.4 220.1,320.7 220.5,312.8 220.9,314.2 221.3,317.8 221.7,315.8 222.1,318.4 222.5,314.8 222.9,311.4 223.3,319.5 223.7,315.7 224.1,314.5 224.5,312.0 224.9,311.4 225.3,316.6 225.7,316.3 226.1,312.0 226.5,315.0 226.9,314.1 227.3,309.5 227.7,307.8 228.1,312.2 228.5,313.9 228.9,312.2 229.2,319.2 229.6,313.8 230.0,317.0 230.4,306.9 230.8,312.6 231.2,315.0 231.6,316.1 232.0,324.6 232.4,313.5 232.8,310.9 233.2,317.5 233.6,312.7 234.0,312.3 234.4,318.8 234.8,310.9 235.2,310.6 235.6,314.3 236.0,315.2 236.4,313.0 236.8,320.9 237.2,317.0 237.6,314.0 238.0,320.9 238.4,313.7 238.8,318.2 239.2,324.5 239.6,319.0 240.0,321.3 240.4,317.1 240.8,322.4 241.2,315.6 241.6,321.5 242.0,317.8 242.4,320.1 242.8,319.0 243.2,314.2 243.6,317.1 244.0,318.2 244.4,321.0 244.8,313.1 245.2,314.2 245.6,317.6" fill="none" stroke="#e3202a" stroke-width="1.2" stroke-linejoin="round" marker-mid="url(#mR)"/>
<rect x="46.6" y="193.5" width="199.0" height="200.0" fill="none" stroke="#8a8a8a" stroke-width="1"/>
<line x1="42.1" y1="393.5" x2="46.6" y2="393.5" stroke="#8a8a8a" stroke-width="1"/>
<line x1="43.8" y1="381.0" x2="46.6" y2="381.0" stroke="#8a8a8a" stroke-width="1"/>
<line x1="42.1" y1="368.5" x2="46.6" y2="368.5" stroke="#8a8a8a" stroke-width="1"/>
<line x1="43.8" y1="356.0" x2="46.6" y2="356.0" stroke="#8a8a8a" stroke-width="1"/>
<line x1="42.1" y1="343.5" x2="46.6" y2="343.5" stroke="#8a8a8a" stroke-width="1"/>
<line x1="43.8" y1="331.0" x2="46.6" y2="331.0" stroke="#8a8a8a" stroke-width="1"/>
<line x1="42.1" y1="318.5" x2="46.6" y2="318.5" stroke="#8a8a8a" stroke-width="1"/>
<line x1="43.8" y1="306.0" x2="46.6" y2="306.0" stroke="#8a8a8a" stroke-width="1"/>
<line x1="42.1" y1="293.5" x2="46.6" y2="293.5" stroke="#8a8a8a" stroke-width="1"/>
<line x1="43.8" y1="281.0" x2="46.6" y2="281.0" stroke="#8a8a8a" stroke-width="1"/>
<line x1="42.1" y1="268.5" x2="46.6" y2="268.5" stroke="#8a8a8a" stroke-width="1"/>
<line x1="43.8" y1="256.0" x2="46.6" y2="256.0" stroke="#8a8a8a" stroke-width="1"/>
<line x1="42.1" y1="243.5" x2="46.6" y2="243.5" stroke="#8a8a8a" stroke-width="1"/>
<line x1="43.8" y1="231.0" x2="46.6" y2="231.0" stroke="#8a8a8a" stroke-width="1"/>
<line x1="42.1" y1="218.5" x2="46.6" y2="218.5" stroke="#8a8a8a" stroke-width="1"/>
<line x1="43.8" y1="206.0" x2="46.6" y2="206.0" stroke="#8a8a8a" stroke-width="1"/>
<line x1="42.1" y1="193.5" x2="46.6" y2="193.5" stroke="#8a8a8a" stroke-width="1"/>
<line x1="46.6" y1="393.5" x2="46.6" y2="398.0" stroke="#8a8a8a" stroke-width="1"/>
<line x1="59.0" y1="393.5" x2="59.0" y2="396.3" stroke="#8a8a8a" stroke-width="1"/>
<line x1="71.5" y1="393.5" x2="71.5" y2="398.0" stroke="#8a8a8a" stroke-width="1"/>
<line x1="83.9" y1="393.5" x2="83.9" y2="396.3" stroke="#8a8a8a" stroke-width="1"/>
<line x1="96.3" y1="393.5" x2="96.3" y2="398.0" stroke="#8a8a8a" stroke-width="1"/>
<line x1="108.8" y1="393.5" x2="108.8" y2="396.3" stroke="#8a8a8a" stroke-width="1"/>
<line x1="121.2" y1="393.5" x2="121.2" y2="398.0" stroke="#8a8a8a" stroke-width="1"/>
<line x1="133.7" y1="393.5" x2="133.7" y2="396.3" stroke="#8a8a8a" stroke-width="1"/>
<line x1="146.1" y1="393.5" x2="146.1" y2="398.0" stroke="#8a8a8a" stroke-width="1"/>
<line x1="158.5" y1="393.5" x2="158.5" y2="396.3" stroke="#8a8a8a" stroke-width="1"/>
<line x1="171.0" y1="393.5" x2="171.0" y2="398.0" stroke="#8a8a8a" stroke-width="1"/>
<line x1="183.4" y1="393.5" x2="183.4" y2="396.3" stroke="#8a8a8a" stroke-width="1"/>
<line x1="195.8" y1="393.5" x2="195.8" y2="398.0" stroke="#8a8a8a" stroke-width="1"/>
<line x1="208.3" y1="393.5" x2="208.3" y2="396.3" stroke="#8a8a8a" stroke-width="1"/>
<line x1="220.7" y1="393.5" x2="220.7" y2="398.0" stroke="#8a8a8a" stroke-width="1"/>
<line x1="233.2" y1="393.5" x2="233.2" y2="396.3" stroke="#8a8a8a" stroke-width="1"/>
<line x1="245.6" y1="393.5" x2="245.6" y2="398.0" stroke="#8a8a8a" stroke-width="1"/>
<text x="36.3" y="372.0" text-anchor="end" class="tk">−1.5</text>
<text x="36.3" y="347.0" text-anchor="end" class="tk">−1.0</text>
<text x="36.3" y="322.0" text-anchor="end" class="tk">−0.5</text>
<text x="36.3" y="297.0" text-anchor="end" class="tk">0.0</text>
<text x="36.3" y="272.0" text-anchor="end" class="tk">0.5</text>
<text x="36.3" y="247.0" text-anchor="end" class="tk">1.0</text>
<text x="36.3" y="222.0" text-anchor="end" class="tk">1.5</text>
<text x="36.3" y="197.0" text-anchor="end" class="tk">2.0</text>
<text x="44.1" y="410.9" text-anchor="middle" class="tk">−800</text>
<text x="69.0" y="410.9" text-anchor="middle" class="tk">−600</text>
<text x="93.8" y="410.9" text-anchor="middle" class="tk">−400</text>
<text x="118.7" y="410.9" text-anchor="middle" class="tk">−200</text>
<text x="146.1" y="410.9" text-anchor="middle" class="tk">0</text>
<text x="171.0" y="410.9" text-anchor="middle" class="tk">200</text>
<text x="195.8" y="410.9" text-anchor="middle" class="tk">400</text>
<text x="220.7" y="410.9" text-anchor="middle" class="tk">600</text>
<text x="245.6" y="410.9" text-anchor="middle" class="tk">800</text>
<text x="146.1" y="426.8" text-anchor="middle" class="al" textLength="86.7" lengthAdjust="spacingAndGlyphs">Magnetic field (Oe)</text>
<text transform="translate(8.6,291.7) rotate(-90)" text-anchor="middle" class="al" textLength="29.5" lengthAdjust="spacingAndGlyphs"><tspan font-style="italic">V</tspan> (μV)</text>
<text x="186.5" y="215.2" class="ann" textLength="27.9" lengthAdjust="spacingAndGlyphs">+2 mA</text>
<line x1="200.0" y1="267.1" x2="175.5" y2="267.1" stroke="#161616" stroke-width="1.2"/><polygon points="171.2,267.1 177.4,264.2 175.5,267.1 177.4,270.0" fill="#161616"/>
<line x1="200.0" y1="267.1" x2="211.7" y2="242.2" stroke="#e3202a" stroke-width="1.0"/><polygon points="213.5,238.3 213.5,245.1 211.7,242.2 208.2,242.7" fill="#e3202a"/>
<line x1="212.5" y1="268.0" x2="222.3" y2="244.6" stroke="#1f78c0" stroke-width="1.0"/><polygon points="224.0,240.6 224.3,247.4 222.3,244.6 218.9,245.2" fill="#1f78c0"/>
<text x="166.5" y="262.3" class="ie" font-style="italic">I</text><text x="169.4" y="265.3" class="sub">e</text>
<text x="201.5" y="240.2" class="ann" style="fill:#e3202a;font-size:8.2px" font-style="italic">s</text>
<text x="218.8" y="270.2" class="annb" fill="#1f78c0" textLength="7.9" lengthAdjust="spacingAndGlyphs">M</text>
<line x1="94.2" y1="346.2" x2="69.7" y2="346.2" stroke="#161616" stroke-width="1.2"/><polygon points="65.4,346.2 71.6,343.3 69.7,346.2 71.6,349.1" fill="#161616"/>
<line x1="94.2" y1="346.2" x2="106.8" y2="320.2" stroke="#e3202a" stroke-width="1.0"/><polygon points="108.7,316.3 108.6,323.1 106.8,320.2 103.4,320.6" fill="#e3202a"/>
<line x1="120.8" y1="318.3" x2="111.2" y2="342.0" stroke="#1f78c0" stroke-width="1.0"/><polygon points="109.6,346.0 109.2,339.2 111.2,342.0 114.6,341.3" fill="#1f78c0"/>
<text x="60.5" y="341.3" class="ie" font-style="italic">I</text><text x="63.4" y="344.3" class="sub">e</text>
<text x="97.6" y="316" class="ann" style="fill:#e3202a;font-size:8.2px" font-style="italic">s</text>
<text x="118" y="351" class="annb" fill="#1f78c0" textLength="7.9" lengthAdjust="spacingAndGlyphs">M</text>
<text x="56.7" y="383.1" class="fe" textLength="14.4" lengthAdjust="spacingAndGlyphs">Fe2</text>
<polyline points="311.4,305.8 311.8,308.2 312.2,313.5 312.6,310.7 313.0,310.9 313.4,303.2 313.8,312.7 314.2,305.9 314.6,310.2 315.0,308.1 315.4,312.3 315.8,311.3 316.2,311.8 316.6,313.9 317.0,311.9 317.4,311.8 317.8,309.2 318.2,307.3 318.6,313.0 319.0,314.2 319.4,311.9 319.8,317.7 320.2,312.7 320.6,315.4 321.0,316.1 321.4,318.9 321.8,313.7 322.2,311.8 322.6,315.2 323.0,316.6 323.4,314.8 323.8,313.4 324.2,316.0 324.6,314.3 325.0,315.8 325.4,312.6 325.8,306.3 326.2,311.4 326.6,305.5 327.0,314.1 327.4,315.2 327.8,312.8 328.2,311.2 328.6,311.0 329.0,311.1 329.4,314.0 329.8,309.5 330.2,312.2 330.6,309.9 331.0,312.1 331.5,312.2 331.9,312.8 332.3,315.2 332.7,312.5 333.1,312.4 333.5,315.9 333.9,306.6 334.3,314.1 334.7,318.0 335.1,320.3 335.5,316.8 335.9,321.5 336.3,314.0 336.7,317.8 337.1,313.2 337.5,318.6 337.9,312.8 338.3,310.3 338.7,311.9 339.1,318.8 339.5,312.7 339.9,314.5 340.3,309.9 340.7,311.3 341.1,307.5 341.5,311.7 341.9,315.1 342.3,314.9 342.7,308.0 343.1,314.8 343.5,311.7 343.9,304.4 344.3,312.2 344.7,315.2 345.1,309.7 345.5,311.3 345.9,315.0 346.3,308.9 346.7,311.2 347.1,309.5 347.5,313.2 347.9,307.9 348.3,312.3 348.7,308.3 349.1,315.8 349.5,311.1 349.9,311.1 350.3,316.7 350.7,318.8 351.1,315.3 351.5,314.9 351.9,315.3 352.3,314.1 352.7,306.2 353.1,312.0 353.5,306.6 353.9,311.6 354.3,309.0 354.7,310.5 355.1,312.5 355.5,311.6 355.9,306.8 356.3,319.5 356.7,313.0 357.1,312.1 357.5,316.8 357.9,310.8 358.3,311.8 358.7,308.8 359.1,310.2 359.5,311.9 359.9,311.0 360.3,319.0 360.7,306.1 361.1,312.5 361.5,316.9 361.9,315.8 362.3,314.1 362.7,315.0 363.1,313.1 363.5,316.5 363.9,311.8 364.3,314.7 364.7,313.6 365.1,318.1 365.5,316.9 365.9,314.5 366.3,316.4 366.7,314.7 367.1,315.4 367.5,318.8 367.9,310.2 368.3,317.0 368.7,307.7 369.1,310.2 369.5,311.5 369.9,313.5 370.3,316.1 370.7,308.0 371.1,307.1 371.6,316.0 372.0,308.2 372.4,310.5 372.8,311.7 373.2,312.9 373.6,315.4 374.0,315.6 374.4,313.9 374.8,310.0 375.2,318.1 375.6,313.2 376.0,317.8 376.4,314.0 376.8,314.1 377.2,315.8 377.6,311.9 378.0,311.2 378.4,317.7 378.8,316.6 379.2,312.7 379.6,316.1 380.0,313.6 380.4,323.6 380.8,316.6 381.2,316.3 381.6,313.1 382.0,307.7 382.4,315.1 382.8,314.9 383.2,309.7 383.6,313.3 384.0,306.9 384.4,310.3 384.8,318.4 385.2,312.7 385.6,308.2 386.0,312.8 386.4,312.4 386.8,312.7 387.2,312.3 387.6,309.8 388.0,312.6 388.4,312.4 388.8,304.9 389.2,316.9 389.6,313.9 390.0,312.0 390.4,309.8 390.8,312.9 391.2,300.1 391.6,308.6 392.0,306.9 392.4,309.5 392.8,314.3 393.2,304.1 393.6,312.2 394.0,312.5 394.4,312.6 394.8,311.7 395.2,307.3 395.6,311.1 396.0,321.0 396.4,311.7 396.8,311.6 397.2,306.8 397.6,310.4 398.0,308.5 398.4,309.4 398.8,312.3 399.2,309.1 399.6,311.9 400.0,315.9 400.4,316.2 400.8,314.4 401.2,319.6 401.6,311.5 402.0,310.2 402.4,315.2 402.8,317.3 403.2,314.2 403.6,307.7 404.0,311.4 404.4,309.4 404.8,309.1 405.2,309.3 405.6,310.6 406.0,308.0 406.4,307.3 406.8,311.5 407.2,311.4 407.6,308.1 408.0,307.0 408.4,305.2 408.8,307.4 409.2,308.3 409.6,310.7 410.0,305.2 410.4,311.3 410.8,311.2 411.2,316.8 411.7,320.1 412.1,320.9 412.5,323.6 412.9,321.1 413.3,326.5 413.7,324.5 414.1,329.1 414.5,327.0 414.9,343.5 415.3,337.3 415.7,346.9 416.1,348.4 416.5,347.3 416.9,343.1 417.3,332.6 417.7,304.8 418.1,286.1 418.5,289.5 418.9,290.1 419.3,297.7 419.7,289.8 420.1,288.8 420.5,286.6 420.9,283.7 421.3,280.2 421.7,273.0 422.1,268.4 422.5,270.3 422.9,267.6 423.3,270.7 423.7,264.5 424.1,258.6 424.5,261.7 424.9,270.9 425.3,270.8 425.7,273.1 426.1,272.4 426.5,275.9 426.9,274.8 427.3,271.5 427.7,276.8 428.1,279.0 428.5,277.4 428.9,282.7 429.3,279.2 429.7,279.4 430.1,275.7 430.5,284.8 430.9,279.5 431.3,282.8 431.7,279.7 432.1,281.5 432.5,286.9 432.9,289.6 433.3,283.6 433.7,284.1 434.1,291.3 434.5,286.5 434.9,292.8 435.3,289.5 435.7,296.4 436.1,292.1 436.5,293.6 436.9,292.6 437.3,293.2 437.7,290.9 438.1,287.1 438.5,288.5 438.9,293.8 439.3,290.9 439.7,282.0 440.1,285.6 440.5,284.8 440.9,278.3 441.3,288.4 441.7,284.8 442.1,277.8 442.5,275.6 442.9,277.3 443.3,281.6 443.7,274.0 444.1,275.5 444.5,279.2 444.9,284.3 445.3,278.6 445.7,280.4 446.1,281.2 446.5,280.8 446.9,280.2 447.3,280.8 447.7,278.1 448.1,273.8 448.5,285.0 448.9,282.3 449.3,279.3 449.7,278.4 450.1,276.5 450.5,279.5 450.9,279.2 451.3,278.4 451.8,275.9 452.2,277.2 452.6,281.2 453.0,277.9 453.4,279.2 453.8,283.1 454.2,277.1 454.6,277.8 455.0,283.3 455.4,276.3 455.8,280.4 456.2,273.2 456.6,282.2 457.0,279.3 457.4,278.5 457.8,281.3 458.2,280.0 458.6,277.6 459.0,279.3 459.4,277.0 459.8,279.5 460.2,278.0 460.6,278.0 461.0,282.0 461.4,287.5 461.8,277.2 462.2,281.4 462.6,292.6 463.0,274.8 463.4,279.0 463.8,275.3 464.2,275.2 464.6,268.4 465.0,277.7 465.4,275.9 465.8,274.6 466.2,273.0 466.6,278.6 467.0,277.3 467.4,274.5 467.8,281.2 468.2,274.8 468.6,271.8 469.0,275.1 469.4,273.1 469.8,277.9 470.2,272.8 470.6,280.0 471.0,275.7 471.4,270.3 471.8,276.6 472.2,272.2 472.6,278.0 473.0,274.6 473.4,274.5 473.8,276.2 474.2,278.2 474.6,277.4 475.0,279.1 475.4,278.3 475.8,278.4 476.2,274.9 476.6,270.3 477.0,266.2 477.4,271.5 477.8,271.2 478.2,274.9 478.6,275.1 479.0,270.7 479.4,268.6 479.8,274.6 480.2,273.9 480.6,269.3 481.0,268.6 481.4,269.2 481.8,273.2 482.2,274.0 482.6,272.4 483.0,278.8 483.4,271.1 483.8,270.3 484.2,272.4 484.6,272.8 485.0,276.3 485.4,272.1 485.8,272.3 486.2,273.6 486.6,270.2 487.0,274.7 487.4,272.8 487.8,270.6 488.2,272.6 488.6,274.0 489.0,274.9 489.4,270.9 489.8,268.8 490.2,268.4 490.6,273.0 491.0,273.0 491.4,272.4 491.9,269.4 492.3,275.2 492.7,272.7 493.1,272.3 493.5,274.0 493.9,269.9 494.3,273.2 494.7,274.9 495.1,269.2 495.5,276.9 495.9,273.6 496.3,272.6 496.7,273.1 497.1,265.9 497.5,273.3 497.9,269.4 498.3,273.2 498.7,271.1 499.1,266.0 499.5,273.4 499.9,273.5 500.3,268.9 500.7,272.4 501.1,268.8 501.5,265.4 501.9,270.4 502.3,269.2 502.7,269.1 503.1,269.8 503.5,279.7 503.9,273.6 504.3,264.1 504.7,268.0 505.1,272.0 505.5,268.9 505.9,267.7 506.3,272.3 506.7,266.7 507.1,264.2 507.5,268.0 507.9,267.4 508.3,268.2 508.7,266.2 509.1,270.3 509.5,264.5 509.9,266.8 510.3,263.8 510.7,261.6 511.1,271.1 511.5,268.2" fill="none" stroke="#161616" stroke-width="1.2" stroke-linejoin="round" marker-mid="url(#mB)"/>
<polyline points="311.4,307.6 311.8,308.3 312.2,309.2 312.6,317.6 313.0,308.7 313.4,316.9 313.8,307.5 314.2,309.2 314.6,309.5 315.0,309.8 315.4,310.0 315.8,313.8 316.2,313.0 316.6,307.4 317.0,313.9 317.4,312.6 317.8,313.9 318.2,313.2 318.6,312.1 319.0,310.2 319.4,311.1 319.8,311.9 320.2,312.3 320.6,310.5 321.0,315.5 321.4,310.8 321.8,307.5 322.2,315.0 322.6,311.7 323.0,302.8 323.4,314.4 323.8,315.1 324.2,312.2 324.6,305.9 325.0,304.9 325.4,316.0 325.8,310.8 326.2,312.9 326.6,316.2 327.0,320.0 327.4,310.4 327.8,316.9 328.2,313.1 328.6,313.6 329.0,307.7 329.4,309.1 329.8,315.6 330.2,312.0 330.6,307.1 331.0,314.5 331.5,311.6 331.9,309.1 332.3,314.5 332.7,313.6 333.1,315.8 333.5,309.3 333.9,311.3 334.3,306.3 334.7,310.0 335.1,309.5 335.5,311.9 335.9,308.9 336.3,312.0 336.7,314.8 337.1,308.8 337.5,308.4 337.9,304.4 338.3,311.8 338.7,314.2 339.1,316.6 339.5,324.6 339.9,316.3 340.3,311.3 340.7,314.8 341.1,320.5 341.5,310.3 341.9,314.0 342.3,312.8 342.7,313.7 343.1,313.3 343.5,311.7 343.9,317.8 344.3,312.2 344.7,313.2 345.1,308.4 345.5,314.1 345.9,304.9 346.3,308.9 346.7,306.7 347.1,314.0 347.5,309.1 347.9,310.8 348.3,317.6 348.7,313.7 349.1,314.0 349.5,314.7 349.9,314.7 350.3,317.5 350.7,314.8 351.1,311.9 351.5,315.9 351.9,318.8 352.3,310.9 352.7,314.9 353.1,313.2 353.5,312.6 353.9,313.0 354.3,308.9 354.7,311.7 355.1,310.5 355.5,315.0 355.9,315.6 356.3,311.7 356.7,305.2 357.1,310.9 357.5,305.1 357.9,308.9 358.3,307.9 358.7,310.2 359.1,309.0 359.5,301.9 359.9,303.1 360.3,308.9 360.7,308.9 361.1,303.8 361.5,310.0 361.9,305.0 362.3,311.7 362.7,307.4 363.1,304.5 363.5,305.9 363.9,308.0 364.3,307.5 364.7,308.4 365.1,307.5 365.5,302.8 365.9,301.9 366.3,302.6 366.7,307.1 367.1,305.5 367.5,302.7 367.9,302.5 368.3,307.1 368.7,300.0 369.1,294.8 369.5,305.4 369.9,300.6 370.3,294.2 370.7,299.9 371.1,299.2 371.6,296.8 372.0,293.8 372.4,296.6 372.8,291.7 373.2,302.2 373.6,295.7 374.0,296.5 374.4,298.7 374.8,299.2 375.2,301.1 375.6,298.0 376.0,304.2 376.4,303.2 376.8,309.3 377.2,309.7 377.6,307.0 378.0,311.1 378.4,309.2 378.8,311.7 379.2,309.9 379.6,307.7 380.0,306.4 380.4,316.2 380.8,312.1 381.2,307.9 381.6,305.4 382.0,305.0 382.4,314.0 382.8,309.9 383.2,306.5 383.6,304.6 384.0,308.1 384.4,308.3 384.8,309.7 385.2,312.6 385.6,310.6 386.0,309.1 386.4,313.2 386.8,308.3 387.2,321.2 387.6,312.3 388.0,305.3 388.4,307.8 388.8,304.8 389.2,308.4 389.6,311.9 390.0,308.9 390.4,303.5 390.8,313.9 391.2,310.9 391.6,313.9 392.0,310.7 392.4,310.2 392.8,307.2 393.2,310.6 393.6,303.8 394.0,307.8 394.4,311.1 394.8,312.3 395.2,314.6 395.6,309.6 396.0,303.9 396.4,309.8 396.8,310.4 397.2,305.0 397.6,304.4 398.0,302.8 398.4,304.2 398.8,299.8 399.2,300.8 399.6,306.3 400.0,310.9 400.4,317.4 400.8,320.2 401.2,321.6 401.6,328.1 402.0,330.7 402.4,337.1 402.8,329.6 403.2,321.4 403.6,301.9 404.0,277.9 404.4,265.6 404.8,264.9 405.2,266.9 405.6,267.0 406.0,265.7 406.4,265.7 406.8,267.3 407.2,265.3 407.6,265.1 408.0,265.5 408.4,260.5 408.8,263.9 409.2,260.6 409.6,257.5 410.0,258.0 410.4,263.6 410.8,261.5 411.2,264.4 411.7,258.9 412.1,262.7 412.5,264.3 412.9,268.6 413.3,270.1 413.7,268.8 414.1,271.8 414.5,272.4 414.9,270.0 415.3,277.8 415.7,281.9 416.1,280.2 416.5,281.3 416.9,277.7 417.3,280.1 417.7,278.0 418.1,283.9 418.5,272.6 418.9,275.5 419.3,279.4 419.7,275.6 420.1,272.7 420.5,273.5 420.9,274.9 421.3,272.0 421.7,270.4 422.1,275.1 422.5,275.0 422.9,271.8 423.3,266.8 423.7,264.8 424.1,269.0 424.5,265.5 424.9,266.8 425.3,270.6 425.7,273.1 426.1,272.4 426.5,271.3 426.9,267.5 427.3,268.1 427.7,274.9 428.1,273.6 428.5,266.6 428.9,268.2 429.3,271.4 429.7,264.7 430.1,262.1 430.5,264.1 430.9,266.4 431.3,262.9 431.7,267.7 432.1,268.5 432.5,270.0 432.9,261.5 433.3,261.7 433.7,268.1 434.1,265.5 434.5,266.3 434.9,264.5 435.3,263.6 435.7,265.3 436.1,266.5 436.5,268.1 436.9,269.5 437.3,274.1 437.7,266.7 438.1,269.7 438.5,266.8 438.9,267.3 439.3,270.4 439.7,269.7 440.1,267.3 440.5,268.0 440.9,270.4 441.3,270.7 441.7,267.4 442.1,268.9 442.5,268.1 442.9,268.6 443.3,265.8 443.7,267.7 444.1,260.1 444.5,269.1 444.9,269.9 445.3,262.5 445.7,268.9 446.1,270.5 446.5,267.5 446.9,275.2 447.3,266.4 447.7,267.5 448.1,267.7 448.5,270.3 448.9,264.1 449.3,267.0 449.7,268.8 450.1,267.9 450.5,271.8 450.9,269.0 451.3,274.1 451.8,273.1 452.2,267.8 452.6,268.4 453.0,266.4 453.4,270.1 453.8,269.0 454.2,269.8 454.6,266.8 455.0,266.7 455.4,265.8 455.8,267.5 456.2,271.8 456.6,268.5 457.0,272.7 457.4,276.3 457.8,269.5 458.2,269.4 458.6,266.9 459.0,266.9 459.4,272.7 459.8,271.7 460.2,268.1 460.6,267.5 461.0,266.4 461.4,271.8 461.8,269.7 462.2,268.0 462.6,264.7 463.0,274.2 463.4,265.3 463.8,271.4 464.2,274.6 464.6,264.6 465.0,271.8 465.4,271.4 465.8,266.5 466.2,266.1 466.6,269.6 467.0,273.5 467.4,275.4 467.8,269.0 468.2,277.0 468.6,273.9 469.0,266.5 469.4,267.4 469.8,264.9 470.2,268.7 470.6,275.2 471.0,270.2 471.4,277.2 471.8,268.6 472.2,267.0 472.6,274.8 473.0,267.4 473.4,269.5 473.8,270.3 474.2,276.5 474.6,271.3 475.0,267.6 475.4,274.7 475.8,271.4 476.2,272.0 476.6,274.9 477.0,265.4 477.4,268.1 477.8,268.7 478.2,265.9 478.6,271.3 479.0,259.7 479.4,270.3 479.8,273.8 480.2,268.3 480.6,268.6 481.0,273.3 481.4,273.3 481.8,267.1 482.2,270.0 482.6,269.4 483.0,268.3 483.4,272.9 483.8,266.3 484.2,270.0 484.6,268.9 485.0,273.1 485.4,267.1 485.8,268.0 486.2,262.2 486.6,271.6 487.0,267.0 487.4,269.5 487.8,267.2 488.2,272.1 488.6,272.3 489.0,279.8 489.4,277.2 489.8,270.2 490.2,272.0 490.6,270.6 491.0,273.2 491.4,268.9 491.9,272.5 492.3,270.3 492.7,265.6 493.1,266.0 493.5,271.6 493.9,270.4 494.3,270.7 494.7,272.4 495.1,272.3 495.5,275.6 495.9,271.6 496.3,276.1 496.7,276.2 497.1,269.0 497.5,268.1 497.9,269.1 498.3,273.5 498.7,275.5 499.1,271.7 499.5,268.5 499.9,273.8 500.3,275.0 500.7,278.2 501.1,278.9 501.5,268.8 501.9,278.6 502.3,277.4 502.7,276.7 503.1,275.5 503.5,280.9 503.9,275.2 504.3,275.4 504.7,277.7 505.1,279.4 505.5,278.5 505.9,282.8 506.3,275.0 506.7,278.1 507.1,280.9 507.5,277.0 507.9,276.6 508.3,276.9 508.7,275.6 509.1,274.7 509.5,280.8 509.9,278.8 510.3,278.4 510.7,281.5 511.1,272.0 511.5,275.1" fill="none" stroke="#e3202a" stroke-width="1.2" stroke-linejoin="round" marker-mid="url(#mR)"/>
<rect x="311.4" y="191.5" width="200.1" height="200.0" fill="none" stroke="#8a8a8a" stroke-width="1"/>
<line x1="306.9" y1="391.5" x2="311.4" y2="391.5" stroke="#8a8a8a" stroke-width="1"/>
<line x1="308.6" y1="379.0" x2="311.4" y2="379.0" stroke="#8a8a8a" stroke-width="1"/>
<line x1="306.9" y1="366.5" x2="311.4" y2="366.5" stroke="#8a8a8a" stroke-width="1"/>
<line x1="308.6" y1="354.0" x2="311.4" y2="354.0" stroke="#8a8a8a" stroke-width="1"/>
<line x1="306.9" y1="341.5" x2="311.4" y2="341.5" stroke="#8a8a8a" stroke-width="1"/>
<line x1="308.6" y1="329.0" x2="311.4" y2="329.0" stroke="#8a8a8a" stroke-width="1"/>
<line x1="306.9" y1="316.5" x2="311.4" y2="316.5" stroke="#8a8a8a" stroke-width="1"/>
<line x1="308.6" y1="304.0" x2="311.4" y2="304.0" stroke="#8a8a8a" stroke-width="1"/>
<line x1="306.9" y1="291.5" x2="311.4" y2="291.5" stroke="#8a8a8a" stroke-width="1"/>
<line x1="308.6" y1="279.0" x2="311.4" y2="279.0" stroke="#8a8a8a" stroke-width="1"/>
<line x1="306.9" y1="266.5" x2="311.4" y2="266.5" stroke="#8a8a8a" stroke-width="1"/>
<line x1="308.6" y1="254.0" x2="311.4" y2="254.0" stroke="#8a8a8a" stroke-width="1"/>
<line x1="306.9" y1="241.5" x2="311.4" y2="241.5" stroke="#8a8a8a" stroke-width="1"/>
<line x1="308.6" y1="229.0" x2="311.4" y2="229.0" stroke="#8a8a8a" stroke-width="1"/>
<line x1="306.9" y1="216.5" x2="311.4" y2="216.5" stroke="#8a8a8a" stroke-width="1"/>
<line x1="308.6" y1="204.0" x2="311.4" y2="204.0" stroke="#8a8a8a" stroke-width="1"/>
<line x1="306.9" y1="191.5" x2="311.4" y2="191.5" stroke="#8a8a8a" stroke-width="1"/>
<line x1="311.4" y1="391.5" x2="311.4" y2="396.0" stroke="#8a8a8a" stroke-width="1"/>
<line x1="323.9" y1="391.5" x2="323.9" y2="394.3" stroke="#8a8a8a" stroke-width="1"/>
<line x1="336.4" y1="391.5" x2="336.4" y2="396.0" stroke="#8a8a8a" stroke-width="1"/>
<line x1="348.9" y1="391.5" x2="348.9" y2="394.3" stroke="#8a8a8a" stroke-width="1"/>
<line x1="361.4" y1="391.5" x2="361.4" y2="396.0" stroke="#8a8a8a" stroke-width="1"/>
<line x1="373.9" y1="391.5" x2="373.9" y2="394.3" stroke="#8a8a8a" stroke-width="1"/>
<line x1="386.4" y1="391.5" x2="386.4" y2="396.0" stroke="#8a8a8a" stroke-width="1"/>
<line x1="398.9" y1="391.5" x2="398.9" y2="394.3" stroke="#8a8a8a" stroke-width="1"/>
<line x1="411.4" y1="391.5" x2="411.4" y2="396.0" stroke="#8a8a8a" stroke-width="1"/>
<line x1="424.0" y1="391.5" x2="424.0" y2="394.3" stroke="#8a8a8a" stroke-width="1"/>
<line x1="436.5" y1="391.5" x2="436.5" y2="396.0" stroke="#8a8a8a" stroke-width="1"/>
<line x1="449.0" y1="391.5" x2="449.0" y2="394.3" stroke="#8a8a8a" stroke-width="1"/>
<line x1="461.5" y1="391.5" x2="461.5" y2="396.0" stroke="#8a8a8a" stroke-width="1"/>
<line x1="474.0" y1="391.5" x2="474.0" y2="394.3" stroke="#8a8a8a" stroke-width="1"/>
<line x1="486.5" y1="391.5" x2="486.5" y2="396.0" stroke="#8a8a8a" stroke-width="1"/>
<line x1="499.0" y1="391.5" x2="499.0" y2="394.3" stroke="#8a8a8a" stroke-width="1"/>
<line x1="511.5" y1="391.5" x2="511.5" y2="396.0" stroke="#8a8a8a" stroke-width="1"/>
<text x="301.1" y="395.0" text-anchor="end" class="tk">−2.0</text>
<text x="301.1" y="370.0" text-anchor="end" class="tk">−1.5</text>
<text x="301.1" y="345.0" text-anchor="end" class="tk">−1.0</text>
<text x="301.1" y="320.0" text-anchor="end" class="tk">−0.5</text>
<text x="301.1" y="295.0" text-anchor="end" class="tk">0.0</text>
<text x="301.1" y="270.0" text-anchor="end" class="tk">0.5</text>
<text x="301.1" y="245.0" text-anchor="end" class="tk">1.0</text>
<text x="301.1" y="220.0" text-anchor="end" class="tk">1.5</text>
<text x="308.9" y="408.1" text-anchor="middle" class="tk">−800</text>
<text x="333.9" y="408.1" text-anchor="middle" class="tk">−600</text>
<text x="358.9" y="408.1" text-anchor="middle" class="tk">−400</text>
<text x="383.9" y="408.1" text-anchor="middle" class="tk">−200</text>
<text x="411.4" y="408.1" text-anchor="middle" class="tk">0</text>
<text x="436.5" y="408.1" text-anchor="middle" class="tk">200</text>
<text x="461.5" y="408.1" text-anchor="middle" class="tk">400</text>
<text x="486.5" y="408.1" text-anchor="middle" class="tk">600</text>
<text x="511.5" y="408.1" text-anchor="middle" class="tk">800</text>
<text x="411.4" y="423.0" text-anchor="middle" class="al" textLength="86.7" lengthAdjust="spacingAndGlyphs">Magnetic field (Oe)</text>
<text transform="translate(271.1,291.6) rotate(-90)" text-anchor="middle" class="al" textLength="29.5" lengthAdjust="spacingAndGlyphs"><tspan font-style="italic">V</tspan> (μV)</text>
<text x="452.8" y="215.2" class="ann" textLength="27.6" lengthAdjust="spacingAndGlyphs">−2 mA</text>
<line x1="356.2" y1="250.7" x2="378.8" y2="250.7" stroke="#161616" stroke-width="1.2"/><polygon points="383.1,250.7 376.9,253.6 378.8,250.7 376.9,247.8" fill="#161616"/>
<line x1="356.2" y1="250.7" x2="346.3" y2="274.1" stroke="#e3202a" stroke-width="1.0"/><polygon points="344.6,278.1 344.3,271.3 346.3,274.1 349.7,273.5" fill="#e3202a"/>
<line x1="343.0" y1="249.6" x2="334.5" y2="271.7" stroke="#1f78c0" stroke-width="1.0"/><polygon points="333.0,275.8 332.5,269.0 334.5,271.7 337.9,271.0" fill="#1f78c0"/>
<text x="381" y="262.7" class="ie" font-style="italic">I</text><text x="383.9" y="265.7" class="sub">e</text>
<text x="349.6" y="281.2" class="ann" style="fill:#e3202a;font-size:8.2px" font-style="italic">s</text>
<text x="327.5" y="255" class="annb" fill="#1f78c0" textLength="7.9" lengthAdjust="spacingAndGlyphs">M</text>
<line x1="465.7" y1="346.2" x2="489.5" y2="346.2" stroke="#161616" stroke-width="1.2"/><polygon points="493.8,346.2 487.6,349.1 489.5,346.2 487.6,343.3" fill="#161616"/>
<line x1="465.7" y1="346.2" x2="454.8" y2="370.6" stroke="#e3202a" stroke-width="1.0"/><polygon points="453.0,374.6 452.9,367.8 454.8,370.6 458.2,370.1" fill="#e3202a"/>
<line x1="440.0" y1="377.0" x2="449.5" y2="354.0" stroke="#1f78c0" stroke-width="1.0"/><polygon points="451.2,350.0 451.5,356.8 449.5,354.0 446.1,354.6" fill="#1f78c0"/>
<text x="490.7" y="357.7" class="ie" font-style="italic">I</text><text x="493.59999999999997" y="360.7" class="sub">e</text>
<text x="459.6" y="378.5" class="ann" style="fill:#e3202a;font-size:8.2px" font-style="italic">s</text>
<text x="438.3" y="347.7" class="annb" fill="#1f78c0" textLength="7.9" lengthAdjust="spacingAndGlyphs">M</text>
<text x="320.6" y="382.1" class="fe" textLength="14.6" lengthAdjust="spacingAndGlyphs">Fe2</text>

<text x="6" y="24.1" class="pl">(a)</text>
<text x="255.8" y="24.1" class="pl">(b)</text>
<text x="6" y="171.5" class="pl">(c)</text>
<text x="255.8" y="173.6" class="pl">(d)</text>

</svg>
</body></html>
